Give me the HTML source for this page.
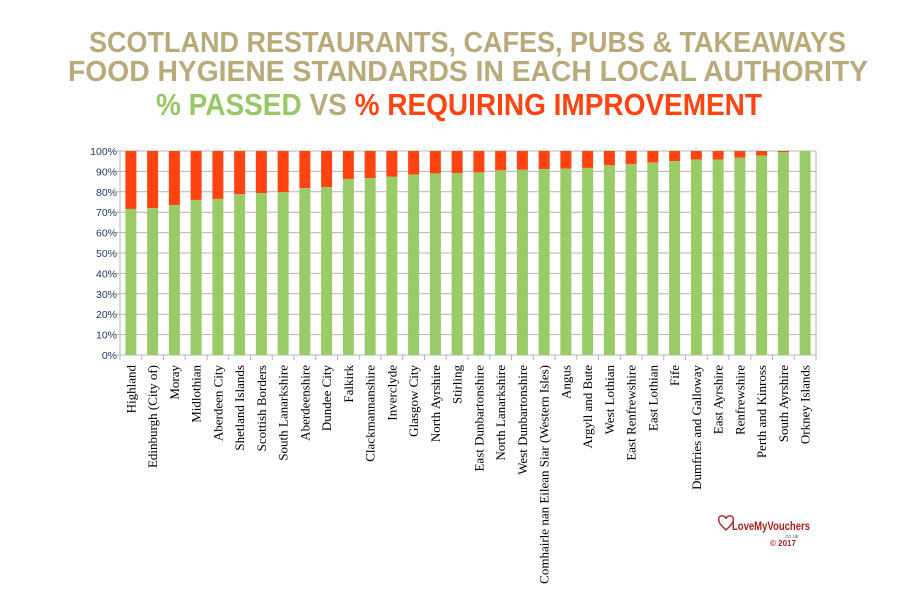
<!DOCTYPE html>
<html><head><meta charset="utf-8"><style>
html,body{margin:0;padding:0;background:#fff;}
svg{display:block}
</style></head><body>
<svg width="900" height="596" viewBox="0 0 900 596" xmlns="http://www.w3.org/2000/svg" font-family="Liberation Sans, sans-serif">
<rect width="900" height="596" fill="#fff"/>
<g font-weight="bold" fill="#b8aa7a" font-size="29">
<text x="89" y="52" textLength="757" lengthAdjust="spacingAndGlyphs">SCOTLAND RESTAURANTS, CAFES, PUBS &amp; TAKEAWAYS</text>
<text x="68" y="81" textLength="800" lengthAdjust="spacingAndGlyphs">FOOD HYGIENE STANDARDS IN EACH LOCAL AUTHORITY</text>
<text x="156" y="115" textLength="606" lengthAdjust="spacingAndGlyphs" font-size="31"><tspan fill="#98c866">% PASSED</tspan> VS <tspan fill="#ff4411">% REQUIRING IMPROVEMENT</tspan></text>
</g>
<g id="grid" stroke="#b4b4b4" stroke-width="1"></g>
<g id="bars"></g>
<g id="labels" font-family="Liberation Serif, serif" font-size="13" fill="#000"></g>
<g id="ylab" font-size="10.5" fill="#1f3a6a" text-anchor="end"></g>
<g font-size="11" font-weight="bold">
<path d="M722 526 c-6 -6 -3 -11 1 -10 c2 0 3 2 3 3 c0 -1 1 -3 3 -3 c4 -1 7 4 1 10 l-4 4z" fill="none" stroke="#b02a2a" stroke-width="1.5"/>
<text x="732" y="530" fill="#a82020" font-size="11.5" textLength="78" lengthAdjust="spacingAndGlyphs">LoveMyVouchers</text>
<text x="784" y="538" fill="#666" font-size="5.5" font-weight="normal">.co.uk</text>
<text x="770" y="546" fill="#a82020" font-size="8">© 2017</text>
</g>
</svg>
<script>
const names=["Highland","Edinburgh (City of)","Moray","Midlothian","Aberdeen City","Shetland Islands","Scottish Borders","South Lanarkshire","Aberdeenshire","Dundee City","Falkirk","Clackmannanshire","Inverclyde","Glasgow City","North Ayrshire","Stirling","East Dunbartonshire","North Lanarkshire","West Dunbartonshire","Comhairle nan Eilean Siar (Western Isles)","Angus","Argyll and Bute","West Lothian","East Renfrewshire","East Lothian","Fife","Dumfries and Galloway","East Ayrshire","Renfrewshire","Perth and Kinross","South Ayrshire","Orkney Islands"];
const vals=[71.6,72,73.5,76,76.5,78.8,79.4,79.8,81.8,82.3,86.3,86.7,87.5,88.4,89,89.2,89.5,90.5,90.8,91.2,91.3,91.7,93,93.5,94.3,95,95.8,95.8,96.8,97.8,99.5,100];
const NS="http://www.w3.org/2000/svg";
function el(p,t,a,txt){const e=document.createElementNS(NS,t);for(const k in a)e.setAttribute(k,a[k]);if(txt)e.textContent=txt;document.getElementById(p).appendChild(e);}
const x0=120,x1=816,yT=151,yB=355,H=yB-yT,cw=(x1-x0)/32;
for(let i=0;i<=10;i++){const y=yB-H*i/10;el("grid","line",{x1:x0-4,x2:x1,y1:y,y2:y});el("ylab","text",{x:x0-3,y:y+4},(i*10)+"%");}
el("grid","line",{x1:x0,x2:x0,y1:yT,y2:yB});el("grid","line",{x1:x1,x2:x1,y1:yT,y2:yB});
for(let i=0;i<=32;i++){const x=x0+cw*i;el("grid","line",{x1:x,x2:x,y1:yB,y2:yB+5});}
names.forEach((n,i)=>{const cx=x0+cw*(i+0.5),w=11,g=H*vals[i]/100;
el("bars","rect",{x:cx-w/2,y:yT,width:w,height:H-g,fill:"#ff4411"});
el("bars","rect",{x:cx-w/2,y:yB-g,width:w,height:g,fill:"#99cb68"});
el("labels","text",{x:0,y:0,"text-anchor":"end",transform:`translate(${cx+4.5},365) rotate(-90)`},n);});
</script>
</body></html>
